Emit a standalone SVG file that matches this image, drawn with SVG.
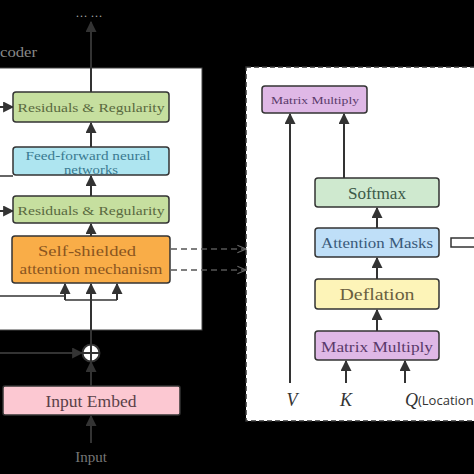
<svg xmlns="http://www.w3.org/2000/svg" width="474" height="474" viewBox="0 0 474 474">
<style>
.box{stroke:#333;stroke-width:1.5}
.t{font-family:"Liberation Serif","DejaVu Serif",serif;text-anchor:middle;dominant-baseline:central}
.ln{stroke:#333;stroke-width:2;fill:none}
.dash{stroke:#555;stroke-width:1.6;stroke-dasharray:6 4;fill:none}
</style>
<defs>
<marker id="ah" viewBox="0 0 10 10" refX="9" refY="5" markerWidth="5.5" markerHeight="5.5" markerUnits="strokeWidth" orient="auto">
<path d="M0,0 L10,5 L0,10 Z" fill="#333"/>
</marker>
<marker id="oa" viewBox="0 0 10 10" refX="9" refY="5" markerWidth="6" markerHeight="6" markerUnits="strokeWidth" orient="auto">
<path d="M0,1 L9,5 L0,9" fill="none" stroke="#666" stroke-width="1.2"/>
</marker>
</defs>
<rect width="474" height="474" fill="#000"/>
<rect x="-2" y="68" width="204" height="262" fill="#fff" stroke="#444" stroke-width="1"/>
<rect x="246" y="67" width="240" height="354" fill="#fff" stroke="#333" stroke-width="1.5" stroke-dasharray="5 3"/>
<text x="0" y="52" font-family="'Liberation Serif',serif" font-size="14" fill="#888" dominant-baseline="central" textLength="37" lengthAdjust="spacingAndGlyphs">coder</text>
<text x="89" y="13" font-family="'Liberation Serif',serif" font-size="12" fill="#aaa" text-anchor="middle" dominant-baseline="central">… …</text>
<g id="connectors">
<line class="ln" x1="91" y1="92" x2="91" y2="22" marker-end="url(#ah)"/>
<line class="ln" x1="91" y1="147" x2="91" y2="123" marker-end="url(#ah)"/>
<line class="ln" x1="91" y1="196" x2="91" y2="176" marker-end="url(#ah)"/>
<line class="ln" x1="91" y1="236" x2="91" y2="224" marker-end="url(#ah)"/>
<line class="ln" x1="0" y1="107" x2="13" y2="107" marker-end="url(#ah)"/>
<line class="ln" x1="0" y1="211" x2="13" y2="211" marker-end="url(#ah)"/>
<line x1="0" y1="176" x2="13" y2="176" stroke="#333" stroke-width="1.5"/>
<line x1="0" y1="296" x2="65" y2="296" stroke="#333" stroke-width="1.5"/>
<polyline fill="none" stroke="#333" stroke-width="1.5" points="65,300 117,300"/>
<line class="ln" x1="65" y1="300" x2="65" y2="284" marker-end="url(#ah)"/>
<line class="ln" x1="117" y1="300" x2="117" y2="284" marker-end="url(#ah)"/>
<line class="ln" x1="91" y1="344" x2="91" y2="284" marker-end="url(#ah)"/>
<line class="ln" x1="0" y1="353" x2="82" y2="353" marker-end="url(#ah)"/>
<line class="ln" x1="91" y1="386" x2="91" y2="362" marker-end="url(#ah)"/>
<line class="ln" x1="91" y1="443" x2="91" y2="416" marker-end="url(#ah)"/>
<line class="dash" x1="171" y1="249" x2="246" y2="249" marker-end="url(#oa)"/>
<line class="dash" x1="171" y1="270" x2="246" y2="270" marker-end="url(#oa)"/>
<line class="ln" x1="290" y1="383" x2="290" y2="114" marker-end="url(#ah)"/>
<line class="ln" x1="344" y1="178" x2="344" y2="114" marker-end="url(#ah)"/>
<line class="ln" x1="377" y1="228" x2="377" y2="208" marker-end="url(#ah)"/>
<line class="ln" x1="377" y1="279" x2="377" y2="258" marker-end="url(#ah)"/>
<line class="ln" x1="377" y1="331" x2="377" y2="310" marker-end="url(#ah)"/>
<line class="ln" x1="346" y1="383" x2="346" y2="361" marker-end="url(#ah)"/>
<line class="ln" x1="405" y1="383" x2="405" y2="361" marker-end="url(#ah)"/>
</g>
<g id="res1"><rect class="box" x="13" y="92" width="156" height="30" rx="3" fill="#c6df9f"/>
<text class="t" x="91" y="107.5" font-size="13" fill="#5a6a40" textLength="147" lengthAdjust="spacingAndGlyphs">Residuals &amp; Regularity</text></g>
<g id="ffn"><rect class="box" x="13" y="147" width="156" height="28" rx="3" fill="#aee5f0"/>
<text class="t" x="88" y="155" font-size="13" fill="#3a7a90" textLength="125" lengthAdjust="spacingAndGlyphs">Feed-forward neural</text>
<text class="t" x="91" y="169" font-size="13" fill="#3a7a90" textLength="54" lengthAdjust="spacingAndGlyphs">networks</text></g>
<g id="res2"><rect class="box" x="13" y="196" width="156" height="27" rx="3" fill="#c6df9f"/>
<text class="t" x="91" y="210" font-size="13" fill="#5a6a40" textLength="147" lengthAdjust="spacingAndGlyphs">Residuals &amp; Regularity</text></g>
<g id="ssa"><rect class="box" x="12" y="236" width="158" height="47" rx="3" fill="#f9ad48"/>
<text class="t" x="87" y="251" font-size="15" fill="#8a5520" textLength="98" lengthAdjust="spacingAndGlyphs">Self-shielded</text>
<text class="t" x="91" y="269" font-size="15" fill="#8a5520" textLength="143" lengthAdjust="spacingAndGlyphs">attention mechanism</text></g>
<g id="add"><circle cx="91" cy="353" r="8.5" fill="#fff" stroke="#333" stroke-width="2"/>
<line x1="82.5" y1="353" x2="99.5" y2="353" stroke="#333" stroke-width="2"/>
<line x1="91" y1="344.5" x2="91" y2="361.5" stroke="#333" stroke-width="2"/></g>
<g id="embed"><rect class="box" x="3" y="386" width="177" height="29" rx="2" fill="#fcc8d2"/>
<text class="t" x="91" y="401" font-size="16" fill="#5a4048" textLength="91" lengthAdjust="spacingAndGlyphs">Input Embed</text></g>
<text x="91" y="457" font-family="'Liberation Serif',serif" font-size="15" fill="#777" text-anchor="middle" dominant-baseline="central">Input</text>
<g id="mm_top"><rect class="box" x="262" y="86" width="105" height="27" rx="3" fill="#dfb8e6"/>
<text class="t" x="315" y="100" font-size="11" fill="#5a3a6a" textLength="88" lengthAdjust="spacingAndGlyphs">Matrix Multiply</text></g>
<g id="softmax"><rect class="box" x="315" y="178" width="124" height="29" rx="3" fill="#cfe9cf"/>
<text class="t" x="377" y="193.5" font-size="16" fill="#3c5a48" textLength="58" lengthAdjust="spacingAndGlyphs">Softmax</text></g>
<g id="masks"><rect class="box" x="315" y="228" width="124" height="29" rx="3" fill="#bfdff8"/>
<text class="t" x="377" y="243" font-size="15" fill="#3a5a7a" textLength="112" lengthAdjust="spacingAndGlyphs">Attention Masks</text></g>
<rect x="451" y="238" width="30" height="9" fill="#fff" stroke="#333" stroke-width="1.5"/>
<g id="deflation"><rect class="box" x="315" y="279" width="124" height="30" rx="3" fill="#fdf4b8"/>
<text class="t" x="377" y="294" font-size="16" fill="#6a6040" textLength="75" lengthAdjust="spacingAndGlyphs">Deflation</text></g>
<g id="mm_bot"><rect class="box" x="315" y="331" width="124" height="29" rx="3" fill="#dfb8e6"/>
<text class="t" x="377" y="346.5" font-size="15" fill="#5a3a6a" textLength="112" lengthAdjust="spacingAndGlyphs">Matrix Multiply</text></g>
<text x="292" y="400" font-family="'Liberation Serif',serif" font-style="italic" font-size="18" fill="#333" text-anchor="middle" dominant-baseline="central">V</text>
<text x="346" y="400" font-family="'Liberation Serif',serif" font-style="italic" font-size="18" fill="#333" text-anchor="middle" dominant-baseline="central">K</text>
<text x="405" y="400" font-family="'Liberation Serif',serif" font-size="18" fill="#333" dominant-baseline="central"><tspan font-style="italic">Q</tspan><tspan font-family="'Open Sans','Liberation Sans',sans-serif" font-size="13">(Location</tspan></text>
</svg>
